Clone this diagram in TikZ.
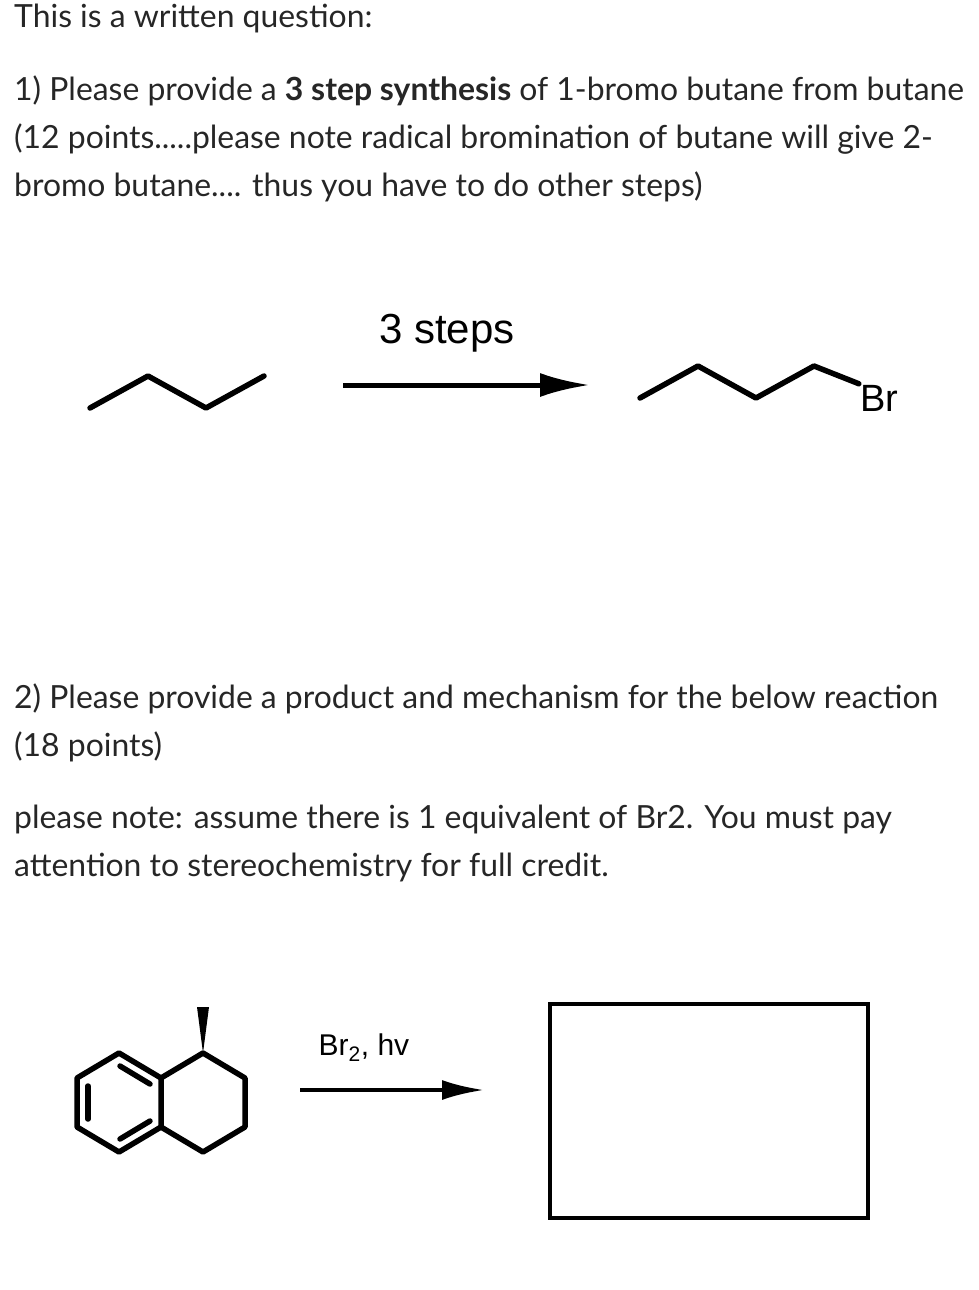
\documentclass[tikz,border=0pt]{standalone}
\usepackage{fontspec}
\setmainfont{Lato}
\newfontfamily\chem{Liberation Sans}
\usetikzlibrary{arrows.meta}
\begin{document}
\begin{tikzpicture}[x=1pt,y=-1pt,
  txt/.style={anchor=base west,inner sep=0pt,font=\fontsize{31.9}{38}\selectfont,text=black!85},
  bond/.style={line width=5.5pt,line cap=round,line join=round},
  rxn/.style={line width=5pt,-{Latex[length=50pt,width=24pt]}}]
\useasboundingbox (0,0) rectangle (978,1290);
\node[txt] (t1) at (14,28) {This is a written question:};
\node[txt] (t2) at (14,100) {1) Please provide a \textbf{3 step synthesis} of 1-bromo butane from butane};
\node[txt] (t3) at (14,148) {(12 points.....please note radical bromination of butane will give 2-};
\node[txt] (t4) at (14,196) {bromo butane.... thus you have to do other steps)};
\node[txt] (t5) at (14,708) {2) Please provide a product and mechanism for the below reaction};
\node[txt] (t6) at (14,756) {(18 points)};
\node[txt] (t7) at (14,828) {please note: assume there is 1 equivalent of Br2. You must pay};
\node[txt] (t8) at (14,876) {attention to stereochemistry for full credit.};
% butane
\draw[bond] (90,408)--(148,376)--(206,408)--(264,376);
\coordinate (a1) at (343,385); \coordinate (a2) at (590,385);
\draw[rxn] (a1)--(a2);
\node[font=\chem\fontsize{42}{46}\selectfont] (s) at (447,333) {3 steps};
\node[font=\chem\fontsize{38}{42}\selectfont,inner sep=1pt] (br) at (879,398) {Br};
\draw[bond] (640,398)--(698,366)--(756,398)--(814,366)--(br.north west);
% tetralin
\draw[bond] (119,1053)--(77,1078)--(77,1127)--(119,1152)--(161,1127)--(161,1078)--cycle;
\draw[bond] (161,1078)--(203,1053)--(245,1078)--(245,1127)--(203,1152)--(161,1127);
\draw[bond] (88,1086)--(88,1119);
\draw[bond] (120,1066)--(150,1084);
\draw[bond] (120,1139)--(150,1121);
\fill (203,1053)--(197,1007)--(209,1007)--cycle;
\coordinate (b1) at (300,1090); \coordinate (b2) at (484,1090);
\draw[line width=4pt,-{Latex[length=42pt,width=20pt]}] (b1)--(b2);
\node[font=\chem\fontsize{30}{34}\selectfont] (r) at (364,1048) {Br\textsubscript{2}, hv};
\draw[line width=4.5pt] (550,1004) rectangle (868,1218);
\end{tikzpicture}
\end{document}
